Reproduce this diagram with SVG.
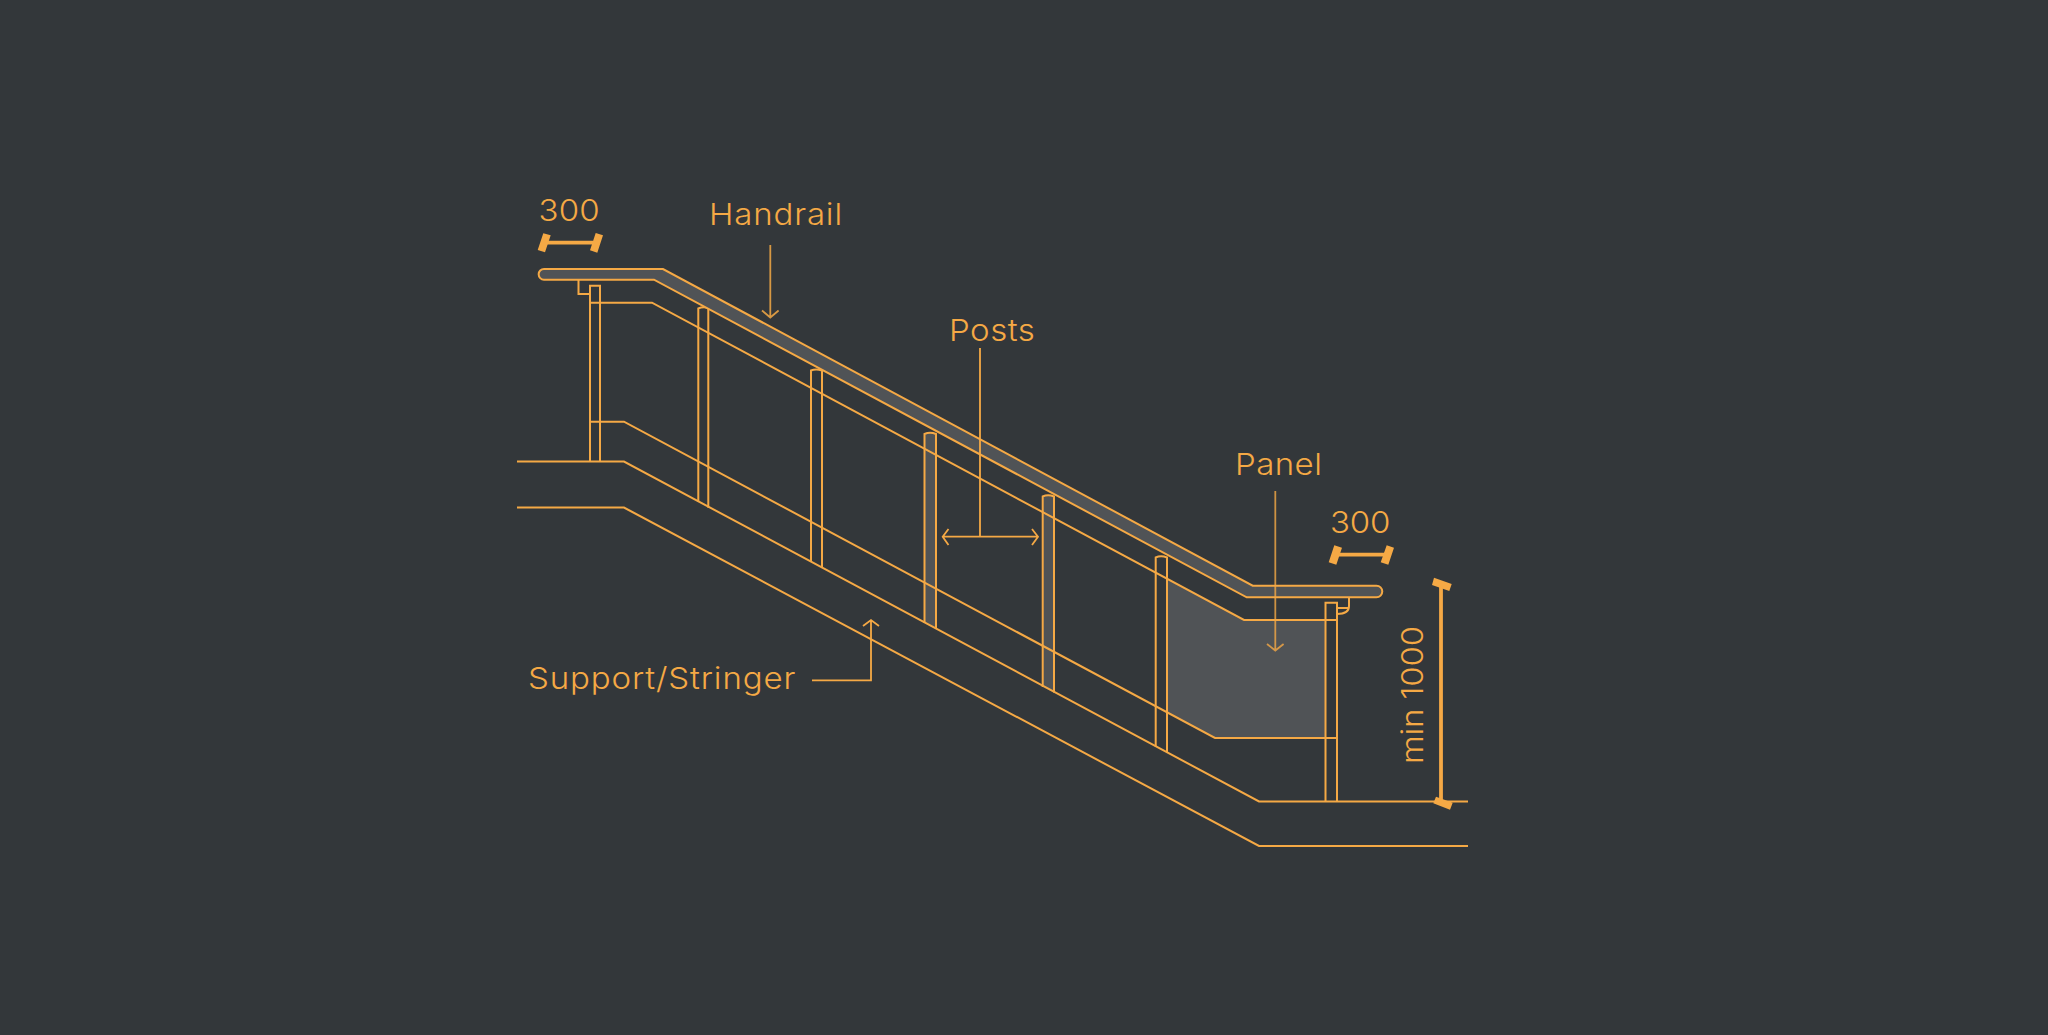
<svg xmlns="http://www.w3.org/2000/svg" width="2048" height="1035" viewBox="0 0 2048 1035">
<style>
.l{fill:none;stroke:#f5a945;stroke-width:2}
.f{fill:#505356;stroke:#f5a945;stroke-width:2}
.g{fill:#505356}
.t{fill:#f5a945}
.m{fill:none;stroke:#f5a945;stroke-width:1.8}
.d{fill:none;stroke:#f5a945;stroke-width:3.8}
text{font-family:"Inter","Liberation Sans",sans-serif;font-size:30px;font-weight:300;fill:#f5a945}
</style>
<rect width="2048" height="1035" fill="#33373a"/>
<g id="panel-fill">
<path class="g" d="M1167 579L1244 620H1325V738H1215L1167 713Z"/>
</g>
<g id="posts">
<path class="l" d="M578.5 280V294H590"/>
<path class="l" d="M590 461.5V285.7H600V461.5"/>
<path class="l" d="M698.3 502V308.5Q703 306.5 708.3 308V507.7"/>
<path class="l" d="M811 562V370.5Q816 368.5 822 370.5V568"/>
<path class="f" d="M924.5 623V434Q930 431.5 936 434V629"/>
<path class="f" d="M1042.7 687V496.5Q1048 494 1054 496.5V692.6"/>
<path class="l" d="M1155.7 746.7V557.5Q1161 555 1167 557.5V752.7"/>
<path class="l" d="M1325.5 801.5V602.7H1337V801.5"/>
<path class="l" d="M1349 597V606Q1349 614 1337 614M1337 608H1349"/>
</g>
<g id="stringer">
<path class="l" d="M517 461.5H624L1259 801.5H1468"/>
<path class="l" d="M517 507.5H624L1259 846H1468"/>
</g>
<g id="panel">
<path class="l" d="M590 302.7H652L1244 620H1337"/>
<path class="l" d="M590 421.7H624L1215 738H1337"/>
</g>
<g id="handrail">
<path class="f" d="M544 269H663L1252.7 585.7H1376.5A5.8 5.8 0 0 1 1376.5 597.3H1246.7L654 279.7H544A5.35 5.35 0 0 1 544 269Z"/>
</g>
<g id="connectors">
<path class="m" stroke-opacity=".85" d="M770.3 245V317M762 310.5L770.3 317.5L778.6 310.5"/>
<path class="m" d="M980 348V536.7M942.7 536.7H1038M948.5 529L942.7 536.7L948.5 545M1032 529L1038 536.7L1032 545"/>
<path class="m" stroke-opacity=".8" d="M1275.3 491V650.5M1267 644L1275.3 650.5L1283.6 644"/>
<path class="m" d="M812 680.3H871V620.5M863 626L871 620L879 626"/>
</g>
<g id="dim-left">
<path class="d" d="M547 242.7H593"/>
<path class="t" d="M543.3 233.3L550.7 235.3L545 252.3L537.7 250ZM595.7 233L603 235.3L597.3 252.7L590 250.3Z"/>
<text transform="translate(538.5 221) scale(1.1 1)" textLength="55.5">300</text>
</g>
<g id="dim-right">
<path class="d" d="M1338 554.7H1385"/>
<path class="t" d="M1334.3 545.3L1342 547.7L1336.3 564.7L1328.7 562.3ZM1386.7 545.3L1394 547.7L1388.3 564.7L1380.7 562.3Z"/>
<text transform="translate(1330 533) scale(1.1 1)" textLength="55">300</text>
</g>
<g id="dim-height">
<path class="d" d="M1441 583V802"/>
<path class="t" d="M1434 577.7L1451.7 584L1449.3 591L1432 585ZM1436 796.7L1452.7 802.7L1450 809.7L1433.3 803.3Z"/>
<text transform="translate(1422.7 764) rotate(-90) scale(1.1 1)" textLength="125.5">min 1000</text>
</g>
<g id="labels">
<text transform="translate(709 225) scale(1.1 1)" textLength="121">Handrail</text>
<text transform="translate(949 341) scale(1.1 1)" textLength="78">Posts</text>
<text transform="translate(1235 475) scale(1.1 1)" textLength="79">Panel</text>
<text transform="translate(528 689) scale(1.1 1)" textLength="243">Support/Stringer</text>
</g>
</svg>
